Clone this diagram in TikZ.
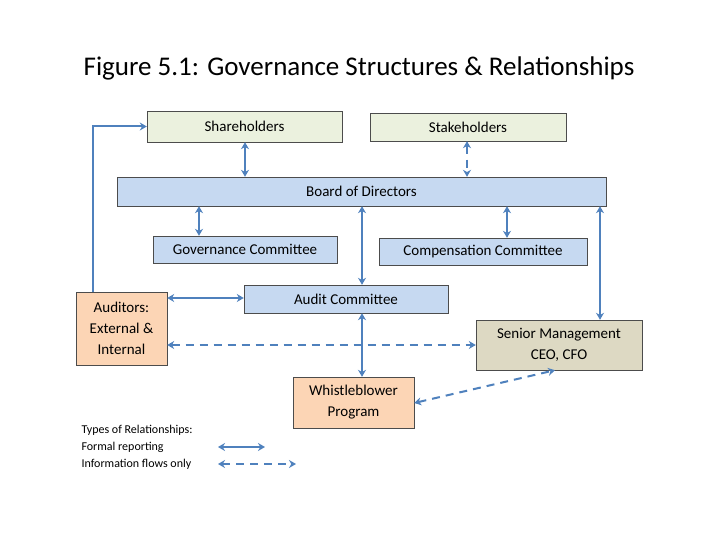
\documentclass[tikz,border=0pt]{standalone}
\usepackage{fontspec}
\setmainfont{Carlito}
\usetikzlibrary{arrows.meta,positioning}
\definecolor{arrowblue}{RGB}{79,129,189}
\definecolor{boxgreen}{RGB}{235,241,222}
\definecolor{boxblue}{RGB}{198,217,241}
\definecolor{boxorange}{RGB}{252,213,181}
\definecolor{boxtan}{RGB}{221,217,195}
\tikzset{
  box/.style={draw=black!70, align=center, inner sep=2pt, font=\fontsize{15}{21}\selectfont},
  link/.style={draw=arrowblue, line width=2pt},
  formal/.style={link, {Stealth[length=7pt,width=8pt]}-{Stealth[length=7pt,width=8pt]}},
  oneway/.style={link, -{Stealth[length=7pt,width=8pt]}},
  info/.style={formal, dash pattern=on 8pt off 6pt},
  legend/.style={anchor=west, font=\fontsize{12}{14}\selectfont}
}
\begin{document}
\begin{tikzpicture}[x=1pt,y=-1pt]
    \useasboundingbox (0,0) rectangle (720,540);
    % Title
    \node (title) at (359,68) {\fontsize{27}{32}\selectfont Figure 5.1: Governance Structures \& Relationships};

    % Boxes
    \node[box, fill=boxgreen, minimum width=195pt, minimum height=31pt] (share) at (244.5,126.5) {Shareholders};
    \node[box, fill=boxgreen, minimum width=196pt, minimum height=28pt] (stake) at (468,127) {Stakeholders};
    \node[box, fill=boxblue, minimum width=489pt, minimum height=29pt] (board) at (361.5,191.5) {Board of Directors};
    \node[box, fill=boxblue, minimum width=184pt, minimum height=27pt] (gov) at (245,249.5) {Governance Committee};
    \node[box, fill=boxblue, minimum width=208pt, minimum height=27pt] (comp) at (483,251.5) {Compensation Committee};
    \node[box, fill=boxblue, minimum width=204pt, minimum height=28pt] (audit) at (346,299) {Audit Committee};
    \node[box, fill=boxorange, minimum width=91pt, minimum height=73pt] (auditors) at (121.5,328.5) {Auditors:\\External \&\\Internal};
    \node[box, fill=boxtan, minimum width=166pt, minimum height=50pt] (senior) at (559,345) {Senior Management\\CEO, CFO};
    \node[box, fill=boxorange, minimum width=121pt, minimum height=51pt] (whistle) at (353.5,402.5) {Whistleblower\\Program};

    % Connectors
    \draw[formal] (share.south -| 245,0) -- (board.north -| 245,0);
    \draw[info] (stake.south -| 467,0) -- (board.north -| 467,0);
    \draw[formal] (board.south -| 199,0) -- (gov.north -| 199,0);
    \draw[formal] (board.south -| 507,0) -- (comp.north -| 507,0);
    \draw[formal] (board.south -| 362,0) -- (audit.north -| 362,0);
    \draw[formal] (board.south -| 600,0) -- (senior.north -| 600,0);
    \draw[oneway] (auditors.north -| 93,0) |- (share.west);
    \draw[formal] (auditors.east |- 0,298) -- (audit.west |- 0,298);
    \draw[info] (auditors.east |- 0,345) -- (senior.west |- 0,345);
    \draw[formal] (audit.south -| 362,0) -- (whistle.north -| 362,0);
    \draw[info] (whistle.east |- 0,403) -- (senior.south -| 555,0);

    % Legend
    \node[legend] (legtitle) at (78,430) {Types of Relationships:};
    \node[legend] (legformal) at (78,447) {Formal reporting};
    \node[legend] (leginfo) at (78,464) {Information flows only};
    \coordinate (fa) at (218,447);
    \coordinate (fb) at (265,447);
    \coordinate (ia) at (218,464);
    \coordinate (ib) at (296,464);
    \draw[formal] (fa) -- (fb);
    \draw[info] (ia) -- (ib);
\end{tikzpicture}
\end{document}
